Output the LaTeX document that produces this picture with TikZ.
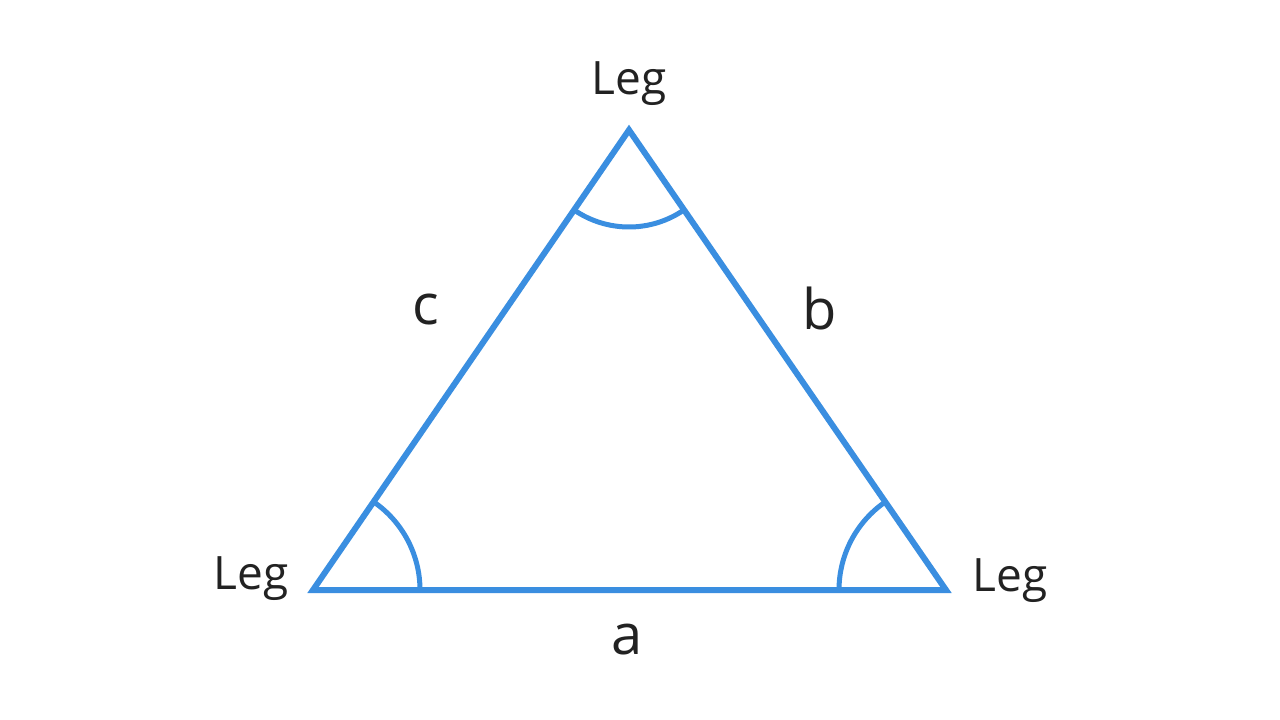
\documentclass[tikz,border=0pt]{standalone}
\usepackage{fontspec}
\setmainfont{Open Sans}
\definecolor{triblue}{HTML}{3A8EE0}
\definecolor{txt}{HTML}{222222}
\begin{document}
\begin{tikzpicture}[x=1pt,y=-1pt,
  edge/.style={draw=triblue,line width=6pt,line join=miter},
  arcline/.style={draw=triblue,line width=5pt},
  leglabel/.style={text=txt,font=\fontsize{46}{50}\selectfont,inner sep=0pt},
  sidelabel/.style={text=txt,font=\fontsize{56}{60}\selectfont,inner sep=0pt}]
\useasboundingbox (0,0) rectangle (1280,720);
\fill[white] (0,0) rectangle (1280,720);
\coordinate (T) at (629,130);
\coordinate (L) at (313,590);
\coordinate (R) at (946,590);
\draw[edge] (T) -- (L) -- (R) -- cycle;
% angle arcs (angles measured with y pointing down)
\draw[arcline] ([shift={(124.5:97)}]T) arc[start angle=124.5,end angle=55.5,radius=97];
\draw[arcline] ([shift={(0:107)}]L) arc[start angle=0,end angle=-55.5,radius=107];
\draw[arcline] ([shift={(180:107)}]R) arc[start angle=180,end angle=235.5,radius=107];
\node[leglabel] (lt) at (629,84) {Leg};
\node[leglabel] (ll) at (251,579) {Leg};
\node[leglabel] (lr) at (1010,581) {Leg};
\node[sidelabel] (c) at (426,310) {c};
\node[sidelabel] (b) at (820,308) {b};
\node[sidelabel] (a) at (627,640) {a};
\end{tikzpicture}
\end{document}
